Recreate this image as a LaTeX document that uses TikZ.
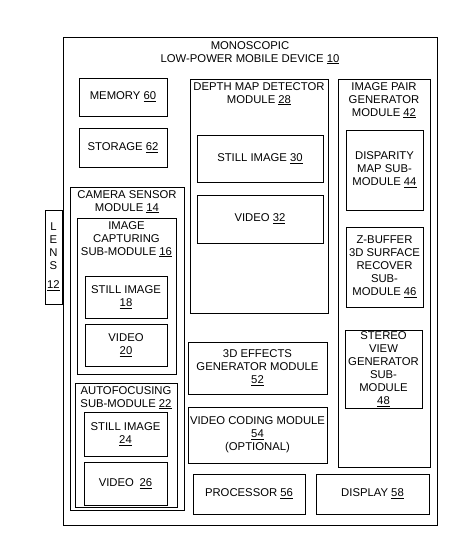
\documentclass[tikz,border=0pt]{standalone}
\usepackage{fontspec}
\setmainfont{Liberation Sans}
\usetikzlibrary{positioning}
\newcommand{\refn}[1]{\underline{#1}}
\tikzset{
  blk/.style={draw, line width=1pt, inner sep=0.5pt, align=center,
    font=\fontsize{11.3}{13}\selectfont},
  ttl/.style={anchor=north, inner sep=3.5pt, align=center,
    font=\fontsize{11.3}{13}\selectfont}
}

\begin{document}
\begin{tikzpicture}[x=1pt,y=-1pt]
    \useasboundingbox (0,0) rectangle (474,543);
    % outer device
    \node[blk, minimum width=374, minimum height=487] (dev) at (250,281.5) {};
    \node[ttl] (devT) at (dev.north) {MONOSCOPIC\\LOW-POWER MOBILE DEVICE \refn{10}};
    % left column
    \node[blk, minimum width=88, minimum height=38] (mem) at (123,97) {MEMORY \refn{60}};
    \node[blk, minimum width=88, minimum height=39] (stor) at (123,147.5) {STORAGE \refn{62}};
    \node[blk, minimum width=17, minimum height=94] (lens) at (53.5,257) {L\\E\\N\\S\\[6pt]\refn{12}};
    \node[blk, minimum width=114, minimum height=323] (cam) at (127,348.5) {};
    \node[ttl] (camT) at (cam.north) {CAMERA SENSOR\\MODULE \refn{14}};
    \node[blk, minimum width=99, minimum height=156] (capt) at (126.5,296) {};
    \node[ttl] (captT) at (capt.north) {IMAGE\\CAPTURING\\SUB-MODULE \refn{16}};
    \node[blk, minimum width=82, minimum height=42] (still18) at (126,297) {STILL IMAGE\\\refn{18}};
    \node[blk, minimum width=82, minimum height=42] (vid20) at (126,345) {VIDEO\\\refn{20}};
    \node[blk, minimum width=102, minimum height=124] (auto) at (126,445) {};
    \node[ttl] (autoT) at (auto.north) {AUTOFOCUSING\\SUB-MODULE \refn{22}};
    \node[blk, minimum width=83, minimum height=44] (still24) at (125.5,434) {STILL IMAGE\\\refn{24}};
    \node[blk, minimum width=83, minimum height=43] (vid26) at (125.5,483.5) {VIDEO\enspace\refn{26}};
    % middle column
    \node[blk, minimum width=138, minimum height=234] (depth) at (259,196) {};
    \node[ttl] (depthT) at (depth.north) {DEPTH MAP DETECTOR\\MODULE \refn{28}};
    \node[blk, minimum width=126, minimum height=47] (still30) at (260,158.5) {STILL IMAGE \refn{30}};
    \node[blk, minimum width=126, minimum height=48] (vid32) at (260,219) {VIDEO \refn{32}};
    \node[blk, minimum width=139, minimum height=52] (fx) at (257.5,368) {3D EFFECTS\\GENERATOR MODULE\\\refn{52}};
    \node[blk, minimum width=139, minimum height=56] (vcode) at (257.5,435) {VIDEO CODING MODULE\\\refn{54}\\(OPTIONAL)};
    % right column
    \node[blk, minimum width=92, minimum height=388] (pair) at (384,273) {};
    \node[ttl] (pairT) at (pair.north) {IMAGE PAIR\\GENERATOR\\MODULE \refn{42}};
    \node[blk, minimum width=77, minimum height=80] (disp44) at (384.5,170) {DISPARITY\\MAP SUB-\\MODULE \refn{44}};
    \node[blk, minimum width=77, minimum height=80] (zbuf) at (384.5,267) {Z-BUFFER\\3D SURFACE\\RECOVER\\SUB-\\MODULE \refn{46}};
    \node[blk, minimum width=77, minimum height=78] (stereo) at (383.5,369) {STEREO\\VIEW\\GENERATOR\\SUB-\\MODULE\\\refn{48}};
    % bottom row
    \node[blk, minimum width=112, minimum height=40] (proc) at (249,494) {PROCESSOR \refn{56}};
    \node[blk, minimum width=113, minimum height=40] (displ) at (372.5,494) {DISPLAY \refn{58}};
  \end{tikzpicture}
\end{document}
